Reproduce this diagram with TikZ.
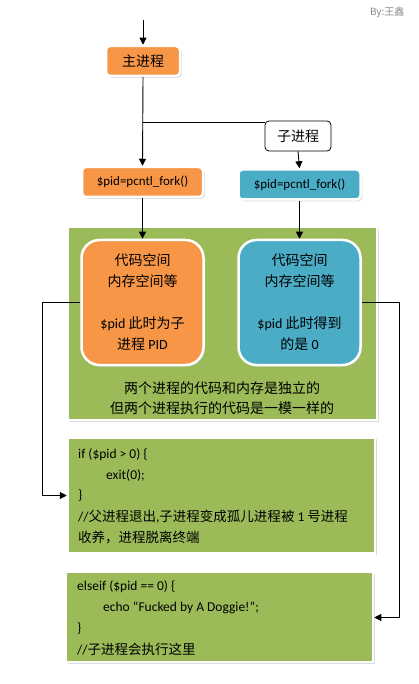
\documentclass[tikz,border=0pt]{standalone}
\usepackage{fontspec}
\setmainfont{Carlito}
\newfontfamily\cjk{Noto Sans CJK SC}
\usetikzlibrary{arrows.meta,shadows}
\definecolor{og}{HTML}{F79646}
\definecolor{bl}{HTML}{4BACC6}
\definecolor{gr}{HTML}{9BBB59}
\newcommand{\zh}[1]{{\cjk #1}}
\tikzset{
  conn/.style={draw=black, line width=0.9pt},
  arr/.style={conn, -{Triangle[length=7pt,width=7pt]}},
  boxstyle/.style={draw=white, line width=2.5pt, inner sep=0pt,
    drop shadow={shadow xshift=1.8pt, shadow yshift=-1.8pt, fill=black!28}},
  smallbox/.style={boxstyle, rounded corners=4pt, minimum height=30pt,
    font=\fontsize{13}{15}\selectfont},
  bigbox/.style={boxstyle, rounded corners=18pt, minimum width=122pt, minimum height=125pt,
    align=center, font=\fontsize{14}{21}\selectfont},
  greenbox/.style={boxstyle, fill=gr},
  codeline/.style={anchor=west, inner sep=0pt, font=\fontsize{13.5}{16}\selectfont},
  labelbox/.style={draw=black, line width=0.8pt, fill=white, rounded corners=4pt,
    minimum width=66pt, minimum height=30pt, font=\fontsize{14}{16}\selectfont\cjk},
}
\begin{document}
\begin{tikzpicture}[x=1pt,y=-1pt]
\useasboundingbox[fill=white] (0,0) rectangle (419,684);
% signature
\node[text=black!45, font=\fontsize{10}{12}\selectfont\cjk, anchor=east] (sig) at (408,12) {By:王鑫};
% main process
\coordinate (top) at (143,20);
\node[smallbox, fill=og, minimum width=74pt, font=\fontsize{14}{16}\selectfont\cjk] (main) at (143,61) {主进程};
\draw[arr] (top) -- (main.north);
% fork boxes
\node[smallbox, fill=og, minimum width=121pt] (fork1) at (142.5,182) {\$pid=pcntl\_fork()};
\node[smallbox, fill=bl, minimum width=122pt] (fork2) at (299.5,184.5) {\$pid=pcntl\_fork()};
\node[labelbox] (child) at (298,136) {子进程};
\coordinate (br) at (main.south |- 0,122);
\draw[arr] (main.south) -- (fork1.north);
\draw[conn] (br) -- (br -| child.west);
\draw[arr] (child.south) -- (fork2.north);
% green box 1
\node[greenbox, minimum width=309pt, minimum height=193pt] (g1) at (222.5,323.5) {};
\node[bigbox, fill=og] (left) at (142.5,302.5) {\zh{代码空间}\\\zh{内存空间等}\\~\\\$pid \zh{此时为子}\\\zh{进程} PID};
\node[bigbox, fill=bl] (right) at (299.5,302.5) {\zh{代码空间}\\\zh{内存空间等}\\~\\\$pid \zh{此时得到}\\\zh{的是} 0};
\draw[arr] (fork1.south) -- (left.north);
\draw[arr] (fork2.south) -- (right.north);
\node[align=center, inner sep=0pt, font=\fontsize{14}{20}\selectfont\cjk] (gtext) at (222,398) {两个进程的代码和内存是独立的\\但两个进程执行的代码是一模一样的};
% green box 2
\node[greenbox, minimum width=307pt, minimum height=116pt] (g2) at (221.5,495.5) {};
\node[codeline] (a1) at (78,455) {if (\$pid > 0) \{};
\node[codeline] (a2) at (106,475.5) {exit(0);};
\node[codeline] (a3) at (78,496) {\}};
\node[codeline] (a4) at (78,516.5) {//\zh{父进程退出},\zh{子进程变成孤儿进程被} 1 \zh{号进程}};
\node[codeline] (a5) at (78,537) {\zh{收养，进程脱离终端}};
% green box 3
\node[greenbox, minimum width=307pt, minimum height=90pt] (g3) at (219.5,617) {};
\node[codeline] (b1) at (77,587) {elseif (\$pid == 0) \{};
\node[codeline] (b2) at (103,608) {echo “Fucked by A Doggie!”;};
\node[codeline] (b3) at (77,629) {\}};
\node[codeline] (b4) at (77,649) {//\zh{子进程会执行这里}};
% side connectors
\coordinate (lc) at (42,0);
\coordinate (rc) at (399,0);
\draw[arr] (left.west) -- (left.west -| lc) |- (g2.west);
\draw[arr] (right.east) -- (right.east -| rc) |- (g3.east |- 0,617.5);
\end{tikzpicture}
\end{document}
